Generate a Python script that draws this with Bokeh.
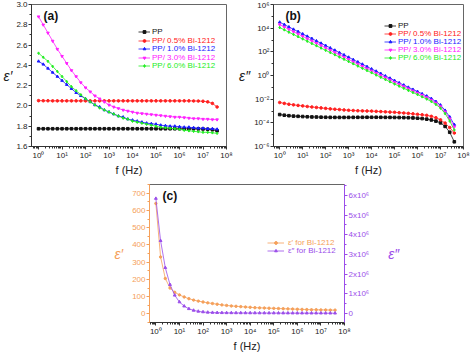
from bokeh.plotting import figure
from bokeh.models import (Range1d, FixedTicker, SingleIntervalTicker, CustomJSTickFormatter,
                          PrintfTickFormatter, Legend, LegendItem, Label, LinearAxis, Spacer)
from bokeh.layouts import column, row
from bokeh.embed import file_html
from bokeh.resources import INLINE

FONT = "Liberation Sans"

# ---------------- data ----------------
freq = [1, 1.585, 2.512, 3.981, 6.31, 10, 15.85, 25.12, 39.81, 63.1,
        100, 158.5, 251.2, 398.1, 631, 1000, 1585, 2512, 3981, 6310,
        1e4, 1.585e4, 2.512e4, 3.981e4, 6.31e4, 1e5, 1.585e5, 2.512e5, 3.981e5, 6.31e5,
        1e6, 1.585e6, 2.512e6, 3.981e6, 6.31e6, 1e7, 1.585e7, 2.512e7, 3.981e7]

series_names = ["PP", "PP/ 0.5% Bi-1212", "PP/ 1.0% Bi-1212", "PP/ 3.0% Bi-1212", "PP/ 6.0% Bi-1212"]
series_colors = ["#111111", "#ff2020", "#1a1aff", "#ff20ff", "#22ee22"]
series_markers = ["square", "circle", "triangle", "inverted_triangle", "diamond"]

# (a) real permittivity
eps1_pp = [1.775, 1.775, 1.775, 1.775, 1.775, 1.775, 1.775, 1.775, 1.775, 1.775,
           1.775, 1.775, 1.775, 1.775, 1.775, 1.775, 1.775, 1.775, 1.775, 1.775,
           1.775, 1.775, 1.775, 1.775, 1.775, 1.775, 1.775, 1.775, 1.775, 1.775,
           1.775, 1.775, 1.775, 1.775, 1.774, 1.773, 1.77, 1.765, 1.755]
eps1_05 = [2.052, 2.051, 2.051, 2.05, 2.05, 2.05, 2.05, 2.05, 2.05, 2.05,
           2.05, 2.05, 2.05, 2.05, 2.05, 2.05, 2.05, 2.05, 2.05, 2.05,
           2.05, 2.05, 2.05, 2.05, 2.05, 2.05, 2.05, 2.05, 2.05, 2.05,
           2.05, 2.05, 2.05, 2.049, 2.048, 2.046, 2.04, 2.025, 1.99]
eps1_10 = [2.44, 2.41, 2.37, 2.33, 2.29, 2.25, 2.21, 2.17, 2.13, 2.10,
           2.07, 2.04, 2.01, 1.99, 1.96, 1.94, 1.92, 1.90, 1.89, 1.87,
           1.86, 1.85, 1.84, 1.83, 1.825, 1.82, 1.81, 1.805, 1.80, 1.80,
           1.795, 1.79, 1.79, 1.785, 1.78, 1.78, 1.775, 1.775, 1.77]
eps1_30 = [2.88, 2.80, 2.72, 2.64, 2.56, 2.49, 2.42, 2.35, 2.29, 2.23,
           2.18, 2.14, 2.10, 2.07, 2.04, 2.01, 1.99, 1.975, 1.96, 1.95,
           1.94, 1.93, 1.925, 1.92, 1.915, 1.91, 1.905, 1.90, 1.895, 1.89,
           1.89, 1.885, 1.88, 1.875, 1.875, 1.87, 1.87, 1.865, 1.865]
eps1_60 = [2.52, 2.48, 2.44, 2.39, 2.34, 2.29, 2.24, 2.19, 2.15, 2.11,
           2.07, 2.04, 2.01, 1.98, 1.96, 1.94, 1.92, 1.90, 1.88, 1.87,
           1.85, 1.84, 1.83, 1.82, 1.81, 1.80, 1.79, 1.785, 1.78, 1.775,
           1.77, 1.76, 1.755, 1.75, 1.745, 1.74, 1.74, 1.735, 1.73]

# (b) imaginary permittivity
eps2_pp = [5.0e-4, 4.4e-4, 4.0e-4, 3.7e-4, 3.55e-4, 3.4e-4, 3.25e-4, 3.15e-4, 3.1e-4, 3.0e-4,
           2.95e-4, 2.9e-4, 2.88e-4, 2.87e-4, 2.87e-4, 2.88e-4, 2.9e-4, 2.92e-4, 2.93e-4, 2.95e-4,
           2.95e-4, 2.95e-4, 2.93e-4, 2.9e-4, 2.88e-4, 2.85e-4, 2.8e-4, 2.75e-4, 2.7e-4, 2.6e-4,
           2.45e-4, 2.3e-4, 2.05e-4, 1.75e-4, 1.4e-4, 1.0e-4, 5.0e-5, 1.6e-5, 2.5e-6]
eps2_05 = [5.25e-3, 4.37e-3, 3.72e-3, 3.31e-3, 2.95e-3, 2.69e-3, 2.4e-3, 2.19e-3, 2.0e-3, 1.82e-3,
           1.66e-3, 1.51e-3, 1.41e-3, 1.32e-3, 1.23e-3, 1.15e-3, 1.10e-3, 1.05e-3, 1.02e-3, 1.0e-3,
           9.8e-4, 9.3e-4, 8.9e-4, 8.5e-4, 8.1e-4, 7.8e-4, 7.2e-4, 6.8e-4, 6.3e-4, 5.75e-4,
           5.25e-4, 4.8e-4, 4.3e-4, 3.55e-4, 2.7e-4, 1.78e-4, 9.5e-5, 4.0e-5, 1.38e-5]
eps2_10 = [3.16e4, 2.0e4, 1.26e4, 7.94e3, 5.13e3, 3.24e3, 2.04e3, 1.32e3, 832, 525,
           339, 214, 135, 85.1, 55, 34.7, 21.9, 13.8, 8.91, 5.62,
           3.55, 2.29, 1.45, 0.912, 0.589, 0.372, 0.24, 0.155, 0.1, 0.066,
           0.0437, 0.0282, 0.0182, 0.0112, 0.0063, 0.00316, 0.00112, 3.16e-4, 7.1e-5]
eps2_30 = [2.0e4, 1.26e4, 7.94e3, 5.01e3, 3.24e3, 2.04e3, 1.29e3, 832, 525, 339,
           214, 138, 87.1, 56.2, 35.5, 22.9, 14.5, 9.33, 6.03, 3.8,
           2.45, 1.58, 1.02, 0.661, 0.427, 0.275, 0.178, 0.117, 0.0759, 0.0501,
           0.0331, 0.0214, 0.0138, 0.0085, 0.00479, 0.0024, 8.5e-4, 2.24e-4, 4.5e-5]
eps2_60 = [1.12e4, 7.24e3, 4.57e3, 2.95e3, 1.91e3, 1.23e3, 794, 501, 324, 209,
           135, 87.1, 56.2, 36.3, 23.4, 15.1, 9.77, 6.31, 4.07, 2.63,
           1.70, 1.10, 0.708, 0.457, 0.295, 0.191, 0.126, 0.0832, 0.055, 0.0363,
           0.0245, 0.0158, 0.0102, 0.0063, 0.00355, 0.00174, 6.0e-4, 1.41e-4, 2.5e-5]

# (c) pure Bi-1212
eps1_bi = [640, 330, 205, 150, 125, 110, 98, 88, 80, 74,
           69, 64, 60, 56, 52, 49, 46, 44, 42, 40,
           38, 36, 35, 34, 33, 32, 31, 30, 29, 28,
           27, 26, 25, 24, 24, 23, 23, 22, 22]
eps2_bi = [5.84e6, 3.70e6, 2.33e6, 1.47e6, 0.93e6, 0.59e6, 0.38e6, 0.245e6, 0.165e6, 0.115e6,
           0.085e6, 0.065e6, 0.055e6, 0.048e6, 0.044e6, 0.041e6, 0.039e6, 0.037e6, 0.036e6, 0.035e6,
           0.034e6, 0.033e6, 0.032e6, 0.031e6, 0.030e6, 0.030e6, 0.029e6, 0.028e6, 0.028e6, 0.027e6,
           0.026e6, 0.026e6, 0.025e6, 0.025e6, 0.024e6, 0.024e6, 0.023e6, 0.023e6, 0.022e6]

x_ticks = [1, 10, 100, 1e3, 1e4, 1e5, 1e6, 1e7, 1e8]
y_ticks_b = [1e-6, 1e-4, 1e-2, 1, 1e2, 1e4, 1e6]

ORANGE = "#f5a05a"
PURPLE = "#9b4dea"

# ---------------- helpers ----------------
SUP = """
const s = {'0':'\u2070','1':'\u00b9','2':'\u00b2','3':'\u00b3','4':'\u2074','5':'\u2075',
           '6':'\u2076','7':'\u2077','8':'\u2078','9':'\u2079','-':'\u207b'};
const e = Math.round(Math.log10(tick));
return '10' + String(e).split('').map(c => s[c]).join('');
"""

x_minor = [m * 10 ** d for d in range(-1, 8) for m in range(2, 10)]


def style_axis(ax, color="#333333", label_color="#222222"):
    ax.axis_line_color = color
    ax.major_tick_line_color = color
    ax.minor_tick_line_color = color
    ax.major_tick_out = 3
    ax.major_tick_in = 0
    ax.minor_tick_out = 2
    ax.minor_tick_in = 0
    ax.major_label_text_font = FONT
    ax.major_label_text_font_size = "8px"
    ax.major_label_text_color = label_color
    ax.major_label_standoff = 1
    ax.axis_label_text_font = FONT
    ax.axis_label_text_color = label_color
    ax.axis_label_standoff = 1


def make_fig(fw, fh, bl, br, bt, bb, x_start, y_range, y_type="linear"):
    p = figure(frame_width=fw, frame_height=fh, x_axis_type="log", y_axis_type=y_type,
               x_range=Range1d(x_start, 1e8), y_range=y_range,
               output_backend="svg", toolbar_location=None,
               min_border_left=bl, min_border_right=br, min_border_top=bt, min_border_bottom=bb)
    p.grid.visible = False
    p.outline_line_color = "#666666"
    p.outline_line_width = 1
    p.background_fill_color = "white"
    p.border_fill_color = "white"
    xa = p.xaxis[0]
    xa.ticker = FixedTicker(ticks=x_ticks, minor_ticks=x_minor)
    xa.formatter = CustomJSTickFormatter(code=SUP)
    style_axis(xa)
    xa.axis_label = "f (Hz)"
    xa.axis_label_text_font_size = "11px"
    xa.axis_label_text_font_style = "normal"
    xa.axis_label_standoff = 1
    return p


def add_legend(p, label, renderers, color, x, y, gw=12, standoff=2):
    leg = Legend(items=[LegendItem(label=label, renderers=renderers)], location=(x, y),
                 background_fill_alpha=0, border_line_alpha=0, padding=0, margin=0, spacing=0,
                 glyph_width=gw, glyph_height=7, label_height=7, label_standoff=standoff,
                 label_text_font=FONT, label_text_font_size="8px", label_text_color=color,
                 label_text_baseline="middle")
    p.add_layout(leg, "center")


def add_tag(p, text, x, y):
    p.add_layout(Label(x=x, y=y, x_units="screen", y_units="screen", text=text,
                       text_font=FONT, text_font_size="12px", text_font_style="bold",
                       text_color="#111111", text_baseline="top"), "center")


MS = 2.6

# ---------------- (a) ----------------
FH1 = 142
pa = make_fig(195, FH1, 29, 10, 4, 30, 10 ** -0.3, Range1d(1.6, 3.0))
ya = pa.yaxis[0]
ya.ticker = SingleIntervalTicker(interval=0.2, num_minor_ticks=2)
ya.formatter = PrintfTickFormatter(format="%.1f")
style_axis(ya)
ya.axis_label = "\u03b5\u2032"
ya.axis_label_orientation = "horizontal"
ya.axis_label_text_font_size = "14px"
ya.axis_label_text_font_style = "italic"
ya.axis_label_standoff = 1

a_series = [eps1_pp, eps1_05, eps1_10, eps1_30, eps1_60]
a_d = [28.5, 37, 45.5, 54, 62.5]
for vals, name, col, mk, d in zip(a_series, series_names, series_colors, series_markers, a_d):
    lr = pa.line(freq, vals, line_color=col, line_width=0.8)
    sr = pa.scatter(freq, vals, marker=mk, size=MS, fill_color=col, line_color=col)
    add_legend(pa, name, [lr, sr], col, 107, FH1 - d - 3.5)
add_tag(pa, "(a)", 12, FH1 - 4)

# ---------------- (b) ----------------
pb = make_fig(190, FH1, 33, 9, 4, 30, 10 ** -0.27, Range1d(1e-6, 1e6), y_type="log")
yb = pb.yaxis[0]
yb.ticker = FixedTicker(ticks=y_ticks_b, minor_ticks=[1e-5, 1e-3, 1e-1, 10, 1e3, 1e5])
yb.formatter = CustomJSTickFormatter(code=SUP)
style_axis(yb)
yb.axis_label = "\u03b5\u2033"
yb.axis_label_orientation = "horizontal"
yb.axis_label_text_font_size = "14px"
yb.axis_label_text_font_style = "italic"
yb.axis_label_standoff = 1

b_series = [eps2_pp, eps2_05, eps2_10, eps2_30, eps2_60]
b_d = [22.5, 30.3, 38, 46, 54]
for vals, name, col, mk, d in zip(b_series, series_names, series_colors, series_markers, b_d):
    lr = pb.line(freq, vals, line_color=col, line_width=0.8)
    sr = pb.scatter(freq, vals, marker=mk, size=MS, fill_color=col, line_color=col)
    add_legend(pb, name, [lr, sr], col, 111, FH1 - d - 3.5)
add_tag(pb, "(b)", 12, FH1 - 4)

# ---------------- (c) ----------------
FH2 = 138
pc = make_fig(195, FH2, 50, 60, 6, 28, 10 ** -0.27, Range1d(-50, 750))
pc.extra_y_ranges = {"e2": Range1d(-0.45e6, 6.55e6)}
yc = pc.yaxis[0]
yc.ticker = SingleIntervalTicker(interval=100, num_minor_ticks=2)
style_axis(yc, color=ORANGE, label_color=ORANGE)
yc.axis_label = "\u03b5\u2032"
yc.axis_label_orientation = "horizontal"
yc.axis_label_text_font_size = "14px"
yc.axis_label_text_font_style = "italic"
yc.axis_label_standoff = 6

yc2 = LinearAxis(y_range_name="e2",
                 ticker=SingleIntervalTicker(interval=1e6, num_minor_ticks=2),
                 formatter=CustomJSTickFormatter(
                     code="if (Math.abs(tick) < 1) { return '0'; } return Math.round(tick / 1e6) + 'x10\u2076';"))
style_axis(yc2, color=PURPLE, label_color=PURPLE)
yc2.axis_label = "\u03b5\u2033"
yc2.axis_label_orientation = "horizontal"
yc2.axis_label_text_font_size = "14px"
yc2.axis_label_text_font_style = "italic"
yc2.axis_label_standoff = 16
pc.add_layout(yc2, "right")

lr1 = pc.line(freq, eps1_bi, line_color=ORANGE, line_width=0.8)
sr1 = pc.scatter(freq, eps1_bi, marker="circle", size=2.4, fill_color=ORANGE, line_color=ORANGE)
lr2 = pc.line(freq, eps2_bi, line_color=PURPLE, line_width=0.8, y_range_name="e2")
sr2 = pc.scatter(freq, eps2_bi, marker="triangle", size=2.8, fill_color=PURPLE, line_color=PURPLE,
                 y_range_name="e2")
add_legend(pc, "\u03b5\u2032 for Bi-1212", [lr1, sr1], ORANGE, 118, FH2 - 59 - 3.5, gw=17, standoff=4)
add_legend(pc, "\u03b5\u2033 for Bi-1212", [lr2, sr2], PURPLE, 118, FH2 - 67.5 - 3.5, gw=17, standoff=4)
add_tag(pc, "(c)", 13, FH2 - 4)

layout = column(row(pa, pb), row(Spacer(width=99, height=10), pc))

with open("out.html", "w", encoding="utf-8") as f:
    f.write(file_html(layout, INLINE))
